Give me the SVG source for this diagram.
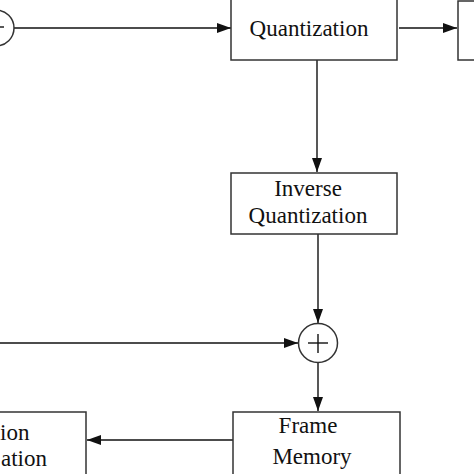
<svg xmlns="http://www.w3.org/2000/svg" width="474" height="474" viewBox="0 0 474 474">
<style>
.box{fill:#fff;stroke:#333;stroke-width:1.5}
.ln{fill:none;stroke:#111;stroke-width:1.4}
.t{font-family:"Liberation Serif","Times New Roman",serif;font-size:23px;fill:#111;text-anchor:middle}
.ts{font-family:"Liberation Serif","Times New Roman",serif;font-size:23px;fill:#111;text-anchor:start}
</style>
<defs>
<marker id="ah" viewBox="0 0 14 10" refX="14" refY="5" markerWidth="14" markerHeight="10" markerUnits="userSpaceOnUse" orient="auto">
<path d="M0,0 L14,5 L0,10 Z" fill="#111"/>
</marker>
</defs>
<g id="connectors">
<line class="ln" x1="14" y1="28" x2="231" y2="28" marker-end="url(#ah)"/>
<line class="ln" x1="399" y1="28" x2="457" y2="28" marker-end="url(#ah)"/>
<line class="ln" x1="317" y1="60" x2="317" y2="172" marker-end="url(#ah)"/>
<line class="ln" x1="318" y1="234" x2="318" y2="323" marker-end="url(#ah)"/>
<line class="ln" x1="0" y1="343" x2="298" y2="343" marker-end="url(#ah)"/>
<line class="ln" x1="318" y1="363" x2="318" y2="411" marker-end="url(#ah)"/>
<line class="ln" x1="233" y1="440" x2="87" y2="440" marker-end="url(#ah)"/>
</g>
<g id="sum-left">
<circle class="box" cx="-4" cy="28" r="18"/>
<line class="ln" x1="0" y1="27" x2="4" y2="27"/>
</g>
<g id="quantization">
<rect class="box" x="231" y="-5" width="166" height="65"/>
<text class="t" x="309" y="36">Quantization</text>
</g>
<g id="right-box">
<rect class="box" x="458" y="1" width="30" height="59"/>
</g>
<g id="inverse-quantization">
<rect class="box" x="231" y="173" width="166" height="61"/>
<text class="t" x="308" y="196">Inverse</text>
<text class="t" x="308" y="223">Quantization</text>
</g>
<g id="sum">
<circle class="box" cx="318" cy="343" r="19.5"/>
<line class="ln" x1="308" y1="343" x2="328" y2="343"/>
<line class="ln" x1="318" y1="334" x2="318" y2="353"/>
</g>
<g id="frame-memory">
<rect class="box" x="233" y="412" width="167" height="70"/>
<text class="t" x="308" y="433">Frame</text>
<text class="t" x="312" y="464">Memory</text>
</g>
<g id="left-box">
<rect class="box" x="-10" y="412" width="96" height="70"/>
<text class="ts" x="0" y="440">ion</text>
<text class="ts" x="1" y="466">ation</text>
</g>
</svg>
